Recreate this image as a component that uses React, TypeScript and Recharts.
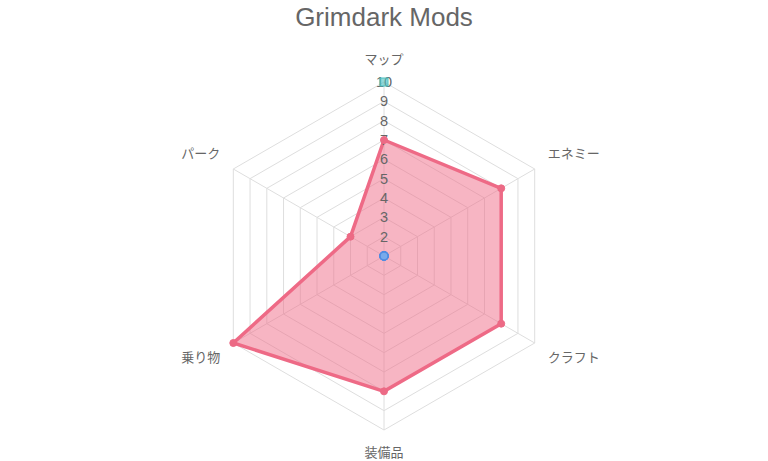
import React from "react"
import {
  PolarAngleAxis,
  PolarGrid,
  PolarRadiusAxis,
  Radar,
  RadarChart,
} from "recharts"

const CATEGORIES = ["マップ", "エネミー", "クラフト", "装備品", "乗り物", "パーク"]
const MOD_SCORES = [7, 8, 8, 8, 10, 3]
const MAX_MARKS = [10, 1, 1, 1, 1, 1]
const MIN_MARKS = [1, 1, 1, 1, 1, 1]
const RADIUS_TICKS = [1, 2, 3, 4, 5, 6, 7, 8, 9, 10]

const FONT = '"Liberation Sans", Arial, "Noto Sans CJK JP", sans-serif'
const TEXT_COLOR = "#666666"

const chartData = CATEGORIES.map((label, i) => ({
  label,
  score: MOD_SCORES[i],
  max: MAX_MARKS[i],
  min: MIN_MARKS[i],
}))

function AngleTick(props: any) {
  const { payload, cx, cy } = props
  const angle = (payload.coordinate * Math.PI) / 180
  const dist = 174 + 15
  const cos = Math.cos(angle)
  const sin = Math.sin(angle)
  const x = cx + cos * dist
  const y = cy - sin * dist + (sin > 0.01 ? -8 : 7)
  const anchor = cos > 0.1 ? "start" : cos < -0.1 ? "end" : "middle"
  return (
    <text
      x={x}
      y={y}
      textAnchor={anchor}
      dominantBaseline="central"
      fontSize={13}
      fontFamily={FONT}
      fill={TEXT_COLOR}
    >
      {payload.value}
    </text>
  )
}

function RadiusTick(props: any) {
  const { x, y, payload } = props
  if (payload.value === 1) return null
  return (
    <text
      x={x}
      y={y}
      textAnchor="middle"
      dominantBaseline="central"
      fontSize={14.5}
      fontFamily={FONT}
      fill={TEXT_COLOR}
    >
      {payload.value}
    </text>
  )
}

function ScoreDot(props: any) {
  const { cx, cy } = props
  return <circle cx={cx} cy={cy} r={3.5} fill="#ec6a85" stroke="#ec6a85" />
}

function MaxDot(props: any) {
  const { cx, cy, value } = props
  const v = Array.isArray(value) ? value[1] : value
  if (v <= 1) return null
  return (
    <rect
      x={cx - 4}
      y={cy - 4}
      width={8}
      height={8}
      fill="rgba(75, 192, 192, 0.6)"
      stroke="rgb(75, 192, 192)"
      strokeWidth={1}
    />
  )
}

function MinDot(props: any) {
  const { cx, cy } = props
  return (
    <circle
      cx={cx}
      cy={cy}
      r={4}
      fill="rgba(120, 170, 235, 0.8)"
      stroke="rgb(80, 140, 225)"
      strokeWidth={1.5}
    />
  )
}

export default function App() {
  return (
    <div
      style={{
        position: "absolute",
        left: 0,
        top: 0,
        width: 768,
        height: 461,
        background: "#fff",
      }}
    >
      <div
        style={{
          position: "absolute",
          top: 0,
          left: 0,
          width: 768,
          textAlign: "center",
          fontFamily: FONT,
          fontSize: 26,
          lineHeight: "34px",
          color: TEXT_COLOR,
        }}
      >
        Grimdark Mods
      </div>
      <RadarChart
        width={768}
        height={461}
        data={chartData}
        cx={384}
        cy={256}
        outerRadius={174}
        margin={{ top: 0, right: 0, bottom: 0, left: 0 }}
      >
        <PolarGrid gridType="polygon" stroke="#dedede" radialLines />
        <PolarAngleAxis
          dataKey="label"
          tick={(p: any) => <AngleTick {...p} cx={384} cy={256} />}
          tickLine={false}
          axisLine={false}
        />
        <PolarRadiusAxis
          angle={90}
          domain={[1, 10]}
          ticks={RADIUS_TICKS as any}
          tickCount={10}
          axisLine={false}
          tick={(p: any) => <RadiusTick {...p} />}
        />
        <Radar
          dataKey="score"
          stroke="#ee6a86"
          strokeWidth={3.5}
          fill="#f06c88"
          fillOpacity={0.5}
          dot={(p: any) => <ScoreDot key={`s${p.index}`} {...p} />}
          isAnimationActive={false}
        />
        <Radar
          dataKey="max"
          stroke="none"
          fill="none"
          fillOpacity={0}
          dot={(p: any) => <MaxDot key={`x${p.index}`} {...p} />}
          isAnimationActive={false}
        />
        <Radar
          dataKey="min"
          stroke="none"
          fill="none"
          fillOpacity={0}
          dot={(p: any) => <MinDot key={`n${p.index}`} {...p} />}
          isAnimationActive={false}
        />
      </RadarChart>
    </div>
  )
}
